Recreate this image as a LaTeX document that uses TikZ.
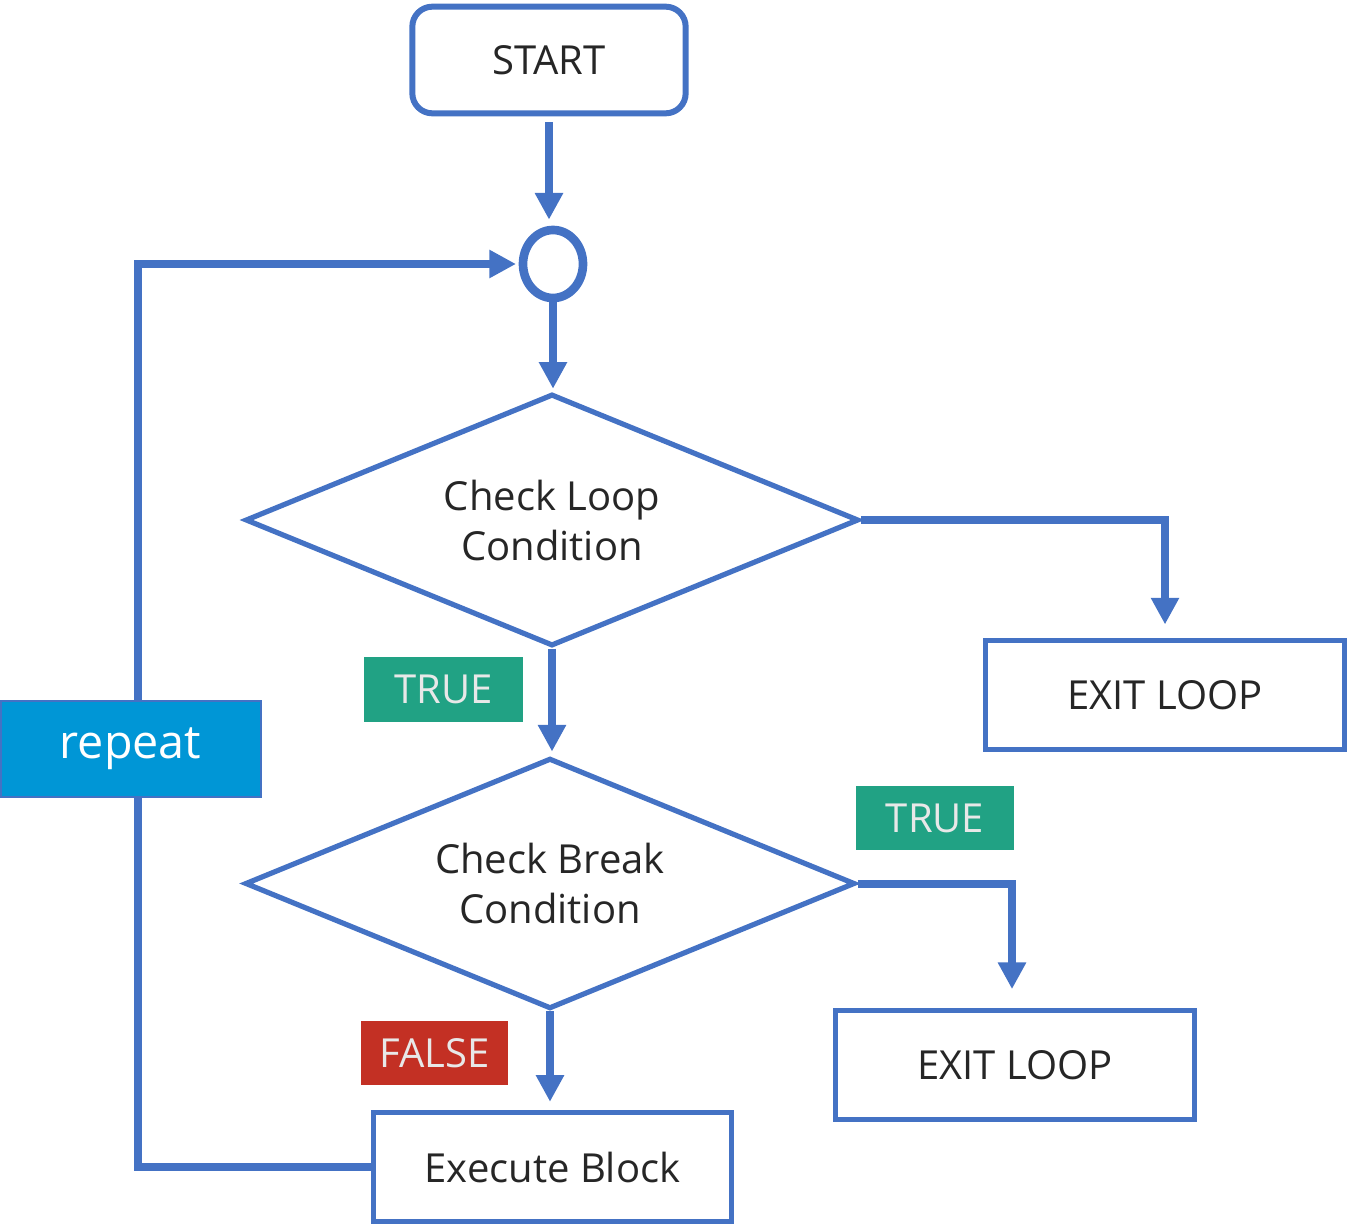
\documentclass[tikz,border=0pt]{standalone}
\usepackage{fontspec}
\setmainfont{Open Sans}
\usetikzlibrary{shapes.geometric,arrows.meta}
\definecolor{cblue}{HTML}{4472C4}
\definecolor{ctext}{HTML}{262626}
\definecolor{cgreen}{HTML}{21A284}
\definecolor{cred}{HTML}{C33024}
\definecolor{crep}{HTML}{0096D6}
\definecolor{clab}{HTML}{E8E8E8}
\begin{document}
\begin{tikzpicture}[x=0.75pt,y=-0.75pt,
  txt/.style={font=\fontsize{30pt}{37.5pt}\selectfont, text=ctext, align=center},
  box/.style={txt, draw=cblue, line width=3.8pt, minimum width=269pt, minimum height=82pt, inner sep=0pt},
  startbox/.style={box, line width=4.5pt, rounded corners=15pt, minimum width=205pt, minimum height=80pt},
  dia/.style={txt, draw=cblue, diamond, aspect=2.45, line width=3.9pt, inner sep=0pt},
  junc/.style={draw=cblue, ellipse, line width=6.5pt, minimum width=45pt, minimum height=51pt, inner sep=0pt},
  tag/.style={font=\fontsize{30pt}{36pt}\selectfont, text=clab, inner sep=0pt, minimum height=48.5pt},
  conn/.style={draw=cblue, line width=6pt},
  arr/.style={conn, -{Triangle[width=20pt,length=20pt]}},
]
\useasboundingbox (0,0) rectangle (1349,1227);

\node[startbox] (start) at (549,60) {START};
\node[junc] (junc) at (553,264) {};
\node[dia, minimum width=460pt, minimum height=189pt] (d1) at (552,520) {Check Loop\\Condition};
\node[dia, minimum width=457.5pt, minimum height=188pt] (d2) at (550,883.5) {Check Break\\Condition};
\node[box] (exit1) at (1165,695) {EXIT LOOP};
\node[box] (exit2) at (1015,1065) {EXIT LOOP};
\node[box] (exec) at (552.5,1167) {Execute Block};

\coordinate (lb) at (exec.west -| 138,0);
\coordinate (lt) at (junc.west -| lb);
\coordinate (r1) at (d1.east -| 1165,0);
\coordinate (r2) at (d2.east -| 1012,0);

\draw[arr, shorten <=4.5pt, shorten >=4.5pt] (start.south) -- (start.south |- junc.north);
\draw[arr, shorten >=2pt] (junc.south) -- (junc.south |- d1.north);
\draw[arr, shorten >=2pt] (exec.west) -- (lb) -- (lt) -- (junc.west);
\draw[arr, shorten >=10pt] (d1.east) -- (r1) -- (r1 |- exit1.north);
\draw[arr, shorten >=3pt] (d1.south) -- (d1.south |- d2.north);
\draw[arr, shorten >=14pt] (d2.east) -- (r2) -- (r2 |- exit2.north);
\draw[arr, shorten >=6pt] (d2.south) -- (d2.south |- exec.north);

\node[tag, fill=crep, draw=cblue, line width=1.5pt, text=white, font=\fontsize{35pt}{42pt}\selectfont, minimum width=195pt, minimum height=72pt] (rep) at (130.5,748.5) {repeat};
\node[tag, fill=cgreen, minimum width=119pt] (t1) at (443.5,689.5) {TRUE};
\node[tag, fill=cgreen, minimum width=118.5pt] (t2) at (935,818) {TRUE};
\node[tag, fill=cred, minimum width=110pt] (f1) at (434.5,1053) {FALSE};
\end{tikzpicture}
\end{document}
